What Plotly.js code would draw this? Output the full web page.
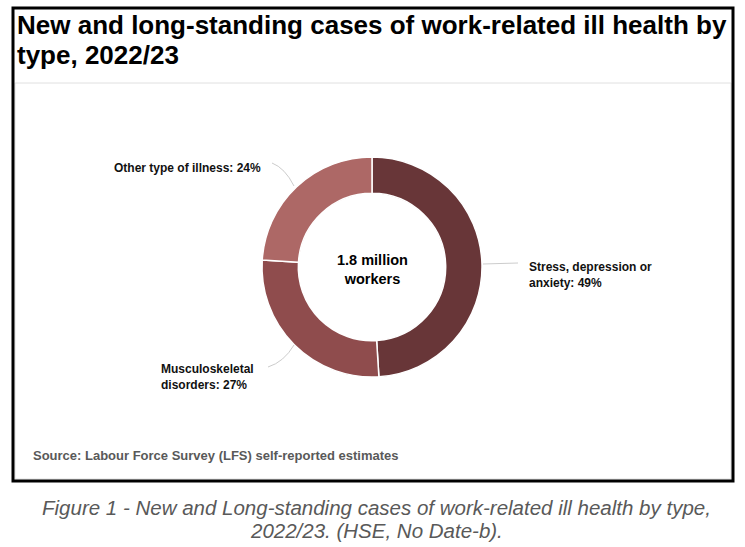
<!DOCTYPE html>
<html>
<head>
<meta charset="utf-8">
<script src="https://cdn.plot.ly/plotly-3.0.1.min.js"></script>
<style>
html,body{margin:0;padding:0;background:#fff;}
#chart{width:745px;height:547px;}
</style>
</head>
<body>
<div id="chart"></div>
<script>
var categories = ["Stress, depression or anxiety", "Musculoskeletal disorders", "Other type of illness"];
var labelText = ["Stress, depression or<br>anxiety: 49%", "Musculoskeletal<br>disorders: 27%", "Other type of illness: 24%"];
var shares = [49, 27, 24];
var sliceColors = ["#683638", "#8F4C4D", "#AD6866"];
var centerText = "1.8 million<br>workers";
var titleLines = ["New and long-standing cases of work-related ill health by", "type, 2022/23"];
var sourceText = "Source: Labour Force Survey (LFS) self-reported estimates";
var captionLines = ["Figure 1 - New and Long-standing cases of work-related ill health by type,", "2022/23. (HSE, No Date-b)."];

var W = 745, H = 547;
function px(x){return x / W;}
function py(y){return 1 - y / H;}

var trace = {
  type: "pie",
  labels: categories,
  values: shares,
  hole: 0.67,
  sort: false,
  direction: "clockwise",
  rotation: 0,
  textinfo: "none",
  hoverinfo: "label+percent",
  marker: {colors: sliceColors, line: {color: "#ffffff", width: 1.5}},
  domain: {x: [px(262), px(482)], y: [py(377), py(157)]},
  showlegend: false
};

var labelFont = {family: "Liberation Sans, Arial, sans-serif", size: 12, color: "#111111"};
var titleFont = {family: "Liberation Sans, Arial, sans-serif", size: 26, color: "#000000"};
var capFont = {family: "Liberation Sans, Arial, sans-serif", size: 20.5, color: "#595959"};

var annotations = [
  {text: "<b>" + centerText + "</b>", xref: "paper", yref: "paper", x: px(372), y: py(269),
   xanchor: "center", yanchor: "middle", showarrow: false, align: "center",
   font: {family: "Liberation Sans, Arial, sans-serif", size: 14.5, color: "#000000"}},
  {text: "<b>" + labelText[0] + "</b>", xref: "paper", yref: "paper", x: px(527), y: py(275),
   xanchor: "left", yanchor: "middle", showarrow: false, align: "left", font: labelFont},
  {text: "<b>" + labelText[1] + "</b>", xref: "paper", yref: "paper", x: px(159), y: py(377),
   xanchor: "left", yanchor: "middle", showarrow: false, align: "left", font: labelFont},
  {text: "<b>" + labelText[2] + "</b>", xref: "paper", yref: "paper", x: px(263), y: py(168),
   xanchor: "right", yanchor: "middle", showarrow: false, align: "right", font: labelFont},
  {text: "<b>" + sourceText + "</b>", xref: "paper", yref: "paper", x: px(31), y: py(455),
   xanchor: "left", yanchor: "middle", showarrow: false, align: "left",
   font: {family: "Liberation Sans, Arial, sans-serif", size: 13, color: "#595959"}}
];
var titleY = [25, 55];
titleLines.forEach(function(t, i){
  annotations.push({text: "<b>" + t + "</b>", xref: "paper", yref: "paper", x: px(15), y: py(titleY[i]),
    xanchor: "left", yanchor: "middle", showarrow: false, align: "left", font: titleFont});
});
var capY = [507, 530];
captionLines.forEach(function(t, i){
  annotations.push({text: "<i>" + t + "</i>", xref: "paper", yref: "paper", x: px(376), y: py(capY[i]),
    xanchor: "center", yanchor: "middle", showarrow: false, align: "center", font: capFont});
});

var layout = {
  width: W, height: H,
  margin: {l: 0, r: 0, t: 0, b: 0},
  paper_bgcolor: "#ffffff",
  plot_bgcolor: "#ffffff",
  showlegend: false,
  shapes: [
    {type: "rect", xref: "paper", yref: "paper", x0: px(15), x1: px(731), y0: py(479), y1: py(83),
     line: {color: "#e0e0e0", width: 1}, fillcolor: "rgba(0,0,0,0)"},
    {type: "rect", xref: "paper", yref: "paper", x0: px(13), x1: px(733), y0: py(481), y1: py(8),
     line: {color: "#000000", width: 3}, fillcolor: "rgba(0,0,0,0)"},
    {type: "line", xref: "paper", yref: "paper", x0: px(483), y0: py(264), x1: px(518), y1: py(263),
     line: {color: "#cccccc", width: 1}},
    {type: "path", xref: "paper", yref: "paper",
     path: "M " + px(294) + "," + py(345) + " Q " + px(284) + "," + py(362) + " " + px(268) + "," + py(367),
     line: {color: "#cccccc", width: 1}},
    {type: "path", xref: "paper", yref: "paper",
     path: "M " + px(294) + "," + py(186) + " Q " + px(285) + "," + py(168) + " " + px(272) + "," + py(163),
     line: {color: "#cccccc", width: 1}}
  ],
  annotations: annotations
};

Plotly.newPlot("chart", [trace], layout, {displayModeBar: false, staticPlot: true});
</script>
</body>
</html>
